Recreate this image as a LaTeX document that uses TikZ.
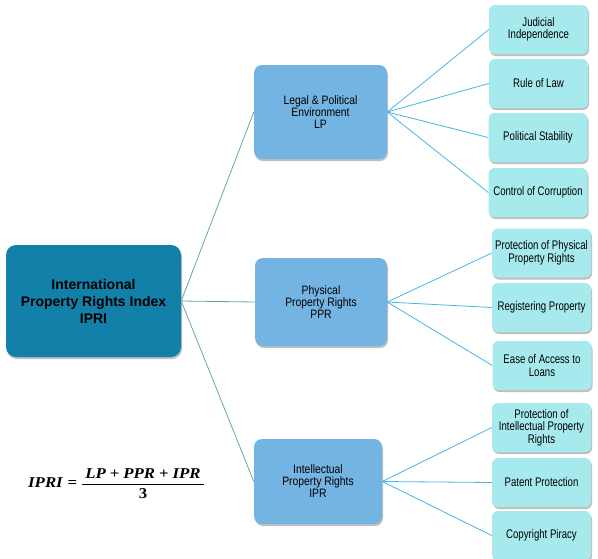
\documentclass[tikz,border=0pt]{standalone}
\usepackage{fontspec}
\setmainfont{Liberation Sans}
\newfontfamily\narrowfont[FakeStretch=0.77]{Liberation Sans}
\newfontfamily\midfont[FakeStretch=0.85]{Liberation Sans}
\newfontfamily\formulafont[FakeStretch=1.12]{Liberation Serif}
\usetikzlibrary{shadows,positioning}

\definecolor{ipriblue}{HTML}{1380AA}
\definecolor{midblue}{HTML}{74B4E2}
\definecolor{leafcyan}{HTML}{A7EAEE}
\definecolor{trunkline}{HTML}{62A9A6}
\definecolor{twigline}{HTML}{45B6E6}

\newcommand{\plusgap}{\hspace{4pt}\upshape+\hspace{4pt}\itshape}

\begin{document}
\begin{tikzpicture}[
        x=1pt, y=-1pt,
        box/.style={rounded corners=8pt, align=center, inner sep=2pt,
            drop shadow={shadow xshift=1pt, shadow yshift=-2pt, opacity=0.25, fill=black}},
        root/.style={box, fill=ipriblue, rounded corners=10pt, minimum width=175pt, minimum height=112pt,
            font=\bfseries\fontsize{14}{17}\selectfont},
        pillar/.style={box, fill=midblue, font=\midfont\fontsize{12.2}{12}\selectfont},
        leaf/.style={box, fill=leafcyan, rounded corners=6pt, minimum width=99pt, minimum height=49pt,
            font=\narrowfont\fontsize{12.5}{12.5}\selectfont},
        formula/.style={inner sep=0pt, font=\formulafont\bfseries\fontsize{15}{17}\selectfont},
        trunk/.style={trunkline, thick},
        twig/.style={twigline, thick}
    ]
    \useasboundingbox (0,0) rectangle (598,558);
    % main index and its three parts
    \node(ipri)[root] at (93.5,301) {International\\Property Rights Index\\IPRI};
    \node(lp)[pillar, minimum width=133pt, minimum height=94pt] at (320.5,112) {Legal \& Political\\Environment\\LP};
    \node(ppr)[pillar, minimum width=132pt, minimum height=88pt] at (321,302) {Physical\\Property Rights\\PPR};
    \node(ipr)[pillar, minimum width=128pt, minimum height=85pt] at (318,481.5) {Intellectual\\Property Rights\\IPR};
    % components
    \node(jud)[leaf] at (538.5,29.5) {Judicial\\Independence};
    \node(rol)[leaf] at (538.5,83.5) {Rule of Law};
    \node(pst)[leaf] at (538,137.5) {Political Stability};
    \node(coc)[leaf] at (538,192.5) {Control of Corruption};
    \node(ppp)[leaf] at (541.5,253) {Protection of Physical\\Property Rights};
    \node(reg)[leaf] at (541.5,307.5) {Registering Property};
    \node(eac)[leaf] at (542,365.5) {Ease of Access to\\Loans};
    \node(pip)[leaf] at (541.5,427.5) {Protection of\\Intellectual Property\\Rights};
    \node(pat)[leaf] at (541.5,482.5) {Patent Protection};
    \node(cop)[leaf] at (541.5,535.5) {Copyright Piracy};
    % formula
    \node(lhs)[formula, anchor=west] at (28,483) {\itshape IPRI\hspace{5pt}\upshape=};
    \node(num)[formula] at (143,474) {\itshape LP\plusgap PPR\plusgap IPR};
    \node(den)[formula] at (143,494) {3};
    \coordinate(barl) at (82,484.5);
    \coordinate(barr) at (204,484.5);
    \draw[line width=0.9pt] (barl) -- (barr);
    % connectors
    \foreach \pillarname in {lp,ppr,ipr}
        \draw[trunk] (ipri.east) -- (\pillarname.west);
    \foreach \comp in {jud,rol,pst,coc}
        \draw[twig] (lp.east) -- (\comp.west);
    \foreach \comp in {ppp,reg,eac}
        \draw[twig] (ppr.east) -- (\comp.west);
    \foreach \comp in {pip,pat,cop}
        \draw[twig] (ipr.east) -- (\comp.west);
\end{tikzpicture}
\end{document}
